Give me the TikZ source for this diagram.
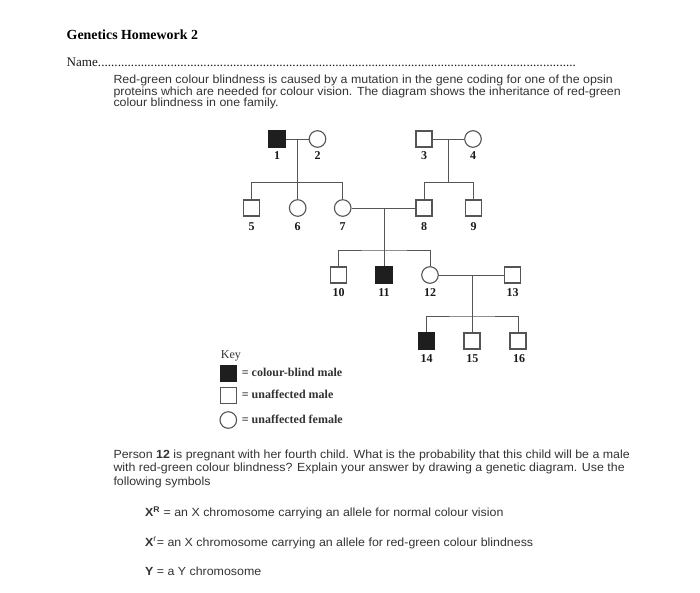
\documentclass[tikz,border=0pt]{standalone}
\usepackage{fontspec}
\setmainfont{Liberation Serif}
\setsansfont{Liberation Sans}
\newfontfamily\parafont[FakeStretch=1.05]{Liberation Sans}
\definecolor{ink}{HTML}{1A1A1A}
\definecolor{txt}{HTML}{333333}
\definecolor{lin}{HTML}{555555}
\definecolor{aff}{HTML}{1E1E1E}
\begin{document}
\begin{tikzpicture}[x=1pt,y=-1pt,
  male/.style={rectangle,draw=lin,line width=1.1pt,minimum size=16pt,inner sep=0pt},
  affmale/.style={male,fill=aff,draw=aff},
  female/.style={circle,draw=lin,line width=1.1pt,minimum size=16.6pt,inner sep=0pt},
  lab/.style={anchor=base,inner sep=0pt,font=\fontsize{12}{12}\selectfont\bfseries,text=ink},
  link/.style={draw=lin,line width=1pt},
  para/.style={anchor=base west,inner sep=0pt,font=\parafont\fontsize{11.8}{11.8}\selectfont,text=txt},
  keytxt/.style={anchor=base west,inner sep=0pt,font=\fontsize{12}{12}\selectfont\bfseries,text=txt},
]
\useasboundingbox[fill=white] (0,0) rectangle (700,592);

% header
\node[anchor=base west,inner sep=0pt,font=\fontsize{13.9}{13.9}\selectfont\bfseries,text=black] (title) at (66.5,39) {Genetics Homework 2};
\node[anchor=base west,inner sep=0pt,font=\fontsize{13.1}{13.1}\selectfont,text=ink] (name) at (66.5,66.5) {Name\hbox to 478pt{\xleaders\hbox{.}\hfill}};

\node[para] (p1a) at (113.3,83.5) {Red-green colour blindness is caused by a mutation in the gene coding for one of the opsin};
\node[para] (p1b) at (113.3,95) {proteins which are needed for colour vision. The diagram shows the inheritance of red-green};
\node[para] (p1c) at (113.3,106.5) {colour blindness in one family.};

% generation I
\node[affmale] (n1) at (277,139) {};
\node[female] (n2) at (317.5,139) {};
\node[male] (n3) at (424,139) {};
\node[female] (n4) at (473,139) {};
% generation II
\node[male] (n5) at (251.7,208) {};
\node[female] (n6) at (297.7,208) {};
\node[female] (n7) at (342.7,208) {};
\node[male] (n8) at (424,208) {};
\node[male] (n9) at (473.7,208) {};
% generation III
\node[male] (n10) at (338.3,275) {};
\node[affmale] (n11) at (384,275) {};
\node[female] (n12) at (430,275) {};
\node[male] (n13) at (512.7,275) {};
% generation IV
\node[affmale] (n14) at (426.7,341) {};
\node[male] (n15) at (472,341) {};
\node[male] (n16) at (518,341) {};

% labels
\node[lab] (l1) at (277,159) {1};
\node[lab] (l2) at (317.5,159) {2};
\node[lab] (l3) at (424,159) {3};
\node[lab] (l4) at (473,159) {4};
\node[lab] (l5) at (251.7,230.5) {5};
\node[lab] (l6) at (297.7,230.5) {6};
\node[lab] (l7) at (342.7,230.5) {7};
\node[lab] (l8) at (424,230.5) {8};
\node[lab] (l9) at (473.7,230.5) {9};
\node[lab] (l10) at (338.5,296) {10};
\node[lab] (l11) at (384,296) {11};
\node[lab] (l12) at (430,296) {12};
\node[lab] (l13) at (512.7,296) {13};
\node[lab] (l14) at (426.7,362) {14};
\node[lab] (l15) at (472.3,362) {15};
\node[lab] (l16) at (519,362) {16};

% coordinates of mating / sibship points
\coordinate (m12) at (297.7,139);
\coordinate (s12) at (297.7,182.7);
\coordinate (m34) at (448.5,139);
\coordinate (s34) at (448.5,182.7);
\coordinate (m78) at (384,208);
\coordinate (s78) at (384,250);
\coordinate (m1213) at (472,275);
\coordinate (s1213) at (472,316);

% connectors
\draw[link] (n1) -- (n2);
\draw[link] (m12) -- (n6.north);
\draw[link] (n5.north) |- (s12) -| (n7.north);
\draw[link] (n3) -- (n4);
\draw[link] (m34) -- (s34);
\draw[link] (n8.north) |- (s34) -| (n9.north);
\draw[link] (n7) -- (n8);
\draw[link] (m78) -- (n11.north);
\draw[link] (n10.north) |- (s78) -| (n12.north);
\draw[link] (n12) -- (n13);
\draw[link] (m1213) -- (n15.north);
\draw[link] (n14.north) |- (s1213) -| (n16.north);

% key
\node[anchor=base west,inner sep=0pt,font=\fontsize{12}{12}\selectfont,text=txt] (key) at (220.7,358) {Key};
\node[affmale] (k1) at (228.3,373.3) {};
\node[male] (k2) at (228.3,395.5) {};
\node[female] (k3) at (228.3,420) {};
\node[keytxt] (kt1) at (241.7,376) {= colour-blind male};
\node[keytxt] (kt2) at (241.7,398.3) {= unaffected male};
\node[keytxt] (kt3) at (241.7,423.3) {= unaffected female};

% question
\node[para] (q1) at (113.3,458.3) {Person \textbf{12} is pregnant with her fourth child. What is the probability that this child will be a male};
\node[para] (q2) at (113.3,471.7) {with red-green colour blindness? Explain your answer by drawing a genetic diagram. Use the};
\node[para] (q3) at (113.3,485) {following symbols};

\node[para] (s1) at (145,516.7) {\textbf{X\textsuperscript{R}} = an X chromosome carrying an allele for normal colour vision};
\node[para] (s2) at (145,546) {\textbf{X}\textsuperscript{r}= an X chromosome carrying an allele for red-green colour blindness};
\node[para] (s3) at (145,575) {\textbf{Y} = a Y chromosome};
\end{tikzpicture}
\end{document}
